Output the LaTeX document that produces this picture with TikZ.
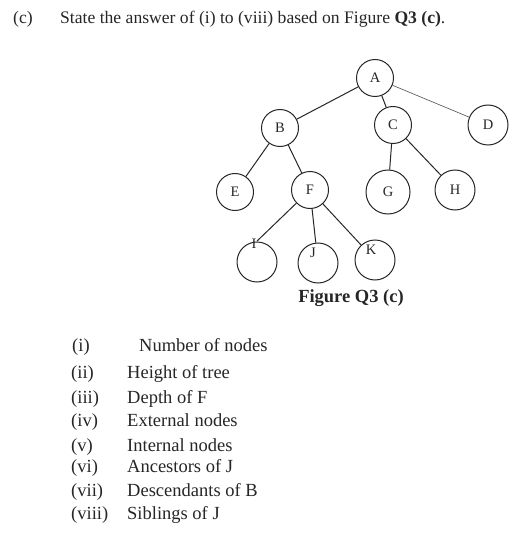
\documentclass[tikz,border=0pt]{standalone}
\usepackage{fontspec}
\setmainfont{Liberation Serif}
\begin{document}
\begin{tikzpicture}[x=1pt,y=-1pt,
  tn/.style={circle,draw=black!85,line width=1pt,minimum size=37pt,inner sep=0pt,font=\fontsize{14.5}{14.5}\selectfont,text=black!85},
  bigtn/.style={tn,minimum size=40pt},
  lbl/.style={inner sep=0.5pt,font=\fontsize{14.5}{14.5}\selectfont,text=black!85},
  edge/.style={draw=black!85,line width=1pt},
  thinedge/.style={draw=black!70,line width=0.6pt},
  txt/.style={anchor=base west,inner sep=0pt,font=\fontsize{18.5}{18.5}\selectfont,text=black!85},
  htxt/.style={anchor=base west,inner sep=0pt,font=\fontsize{17.6}{17.6}\selectfont,text=black!85}
]
\useasboundingbox (0,0) rectangle (531,540);

% header
\node[htxt] (hc) at (13,24) {(c)};
\node[htxt] (ht) at (60,24) {State the answer of (i) to (viii) based on Figure \textbf{Q3 (c)}.};

% tree
\node[tn] (A) at (375,78) {A};
\node[tn] (B) at (280,128) {B};
\node[tn] (C) at (393,125) {C};
\node[bigtn] (D) at (488,125) {D};
\node[tn] (E) at (235,192) {E};
\node[tn] (F) at (310,190) {F};
\node[bigtn,minimum width=44pt] (G) at (388,192) {G};
\node[bigtn] (H) at (455,190) {H};
\node[bigtn] (Ic) at (257,262) {};
\node[lbl] (Il) at (254,244) {I};
\node[bigtn] (Jc) at (318,263) {};
\node[lbl] (Jl) at (313,253) {J};
\node[bigtn] (Kc) at (375,260) {};
\node[lbl] (Kl) at (371,250) {K};

\draw[edge] (A) -- (B);
\draw[edge] (A) -- (C);
\draw[thinedge] (A) -- (D);
\draw[edge] (B) -- (E);
\draw[edge] (B) -- (F);
\draw[edge] (C) -- (G);
\draw[edge] (C) -- (H);
\draw[edge] (F) -- (Il);
\draw[edge] (F) -- (Jc);
\draw[edge] (F) -- (Kc);

\node[font=\bfseries\fontsize{18.5}{18.5}\selectfont,text=black!85] (cap) at (351,298) {Figure Q3 (c)};

% list
\node[txt] (r1) at (72,351) {(i)};
\node[txt] (t1) at (139,351) {Number of nodes};
\node[txt] (r2) at (71,378) {(ii)};
\node[txt] (t2) at (127,378) {Height of tree};
\node[txt] (r3) at (71,403) {(iii)};
\node[txt] (t3) at (127,403) {Depth of F};
\node[txt] (r4) at (71,426) {(iv)};
\node[txt] (t4) at (127,426) {External nodes};
\node[txt] (r5) at (71,451) {(v)};
\node[txt] (t5) at (127,451) {Internal nodes};
\node[txt] (r6) at (71,472) {(vi)};
\node[txt] (t6) at (127,472) {Ancestors of J};
\node[txt] (r7) at (71,496) {(vii)};
\node[txt] (t7) at (127,496) {Descendants of B};
\node[txt] (r8) at (71,519) {(viii)};
\node[txt] (t8) at (127,519) {Siblings of J};
\end{tikzpicture}
\end{document}
